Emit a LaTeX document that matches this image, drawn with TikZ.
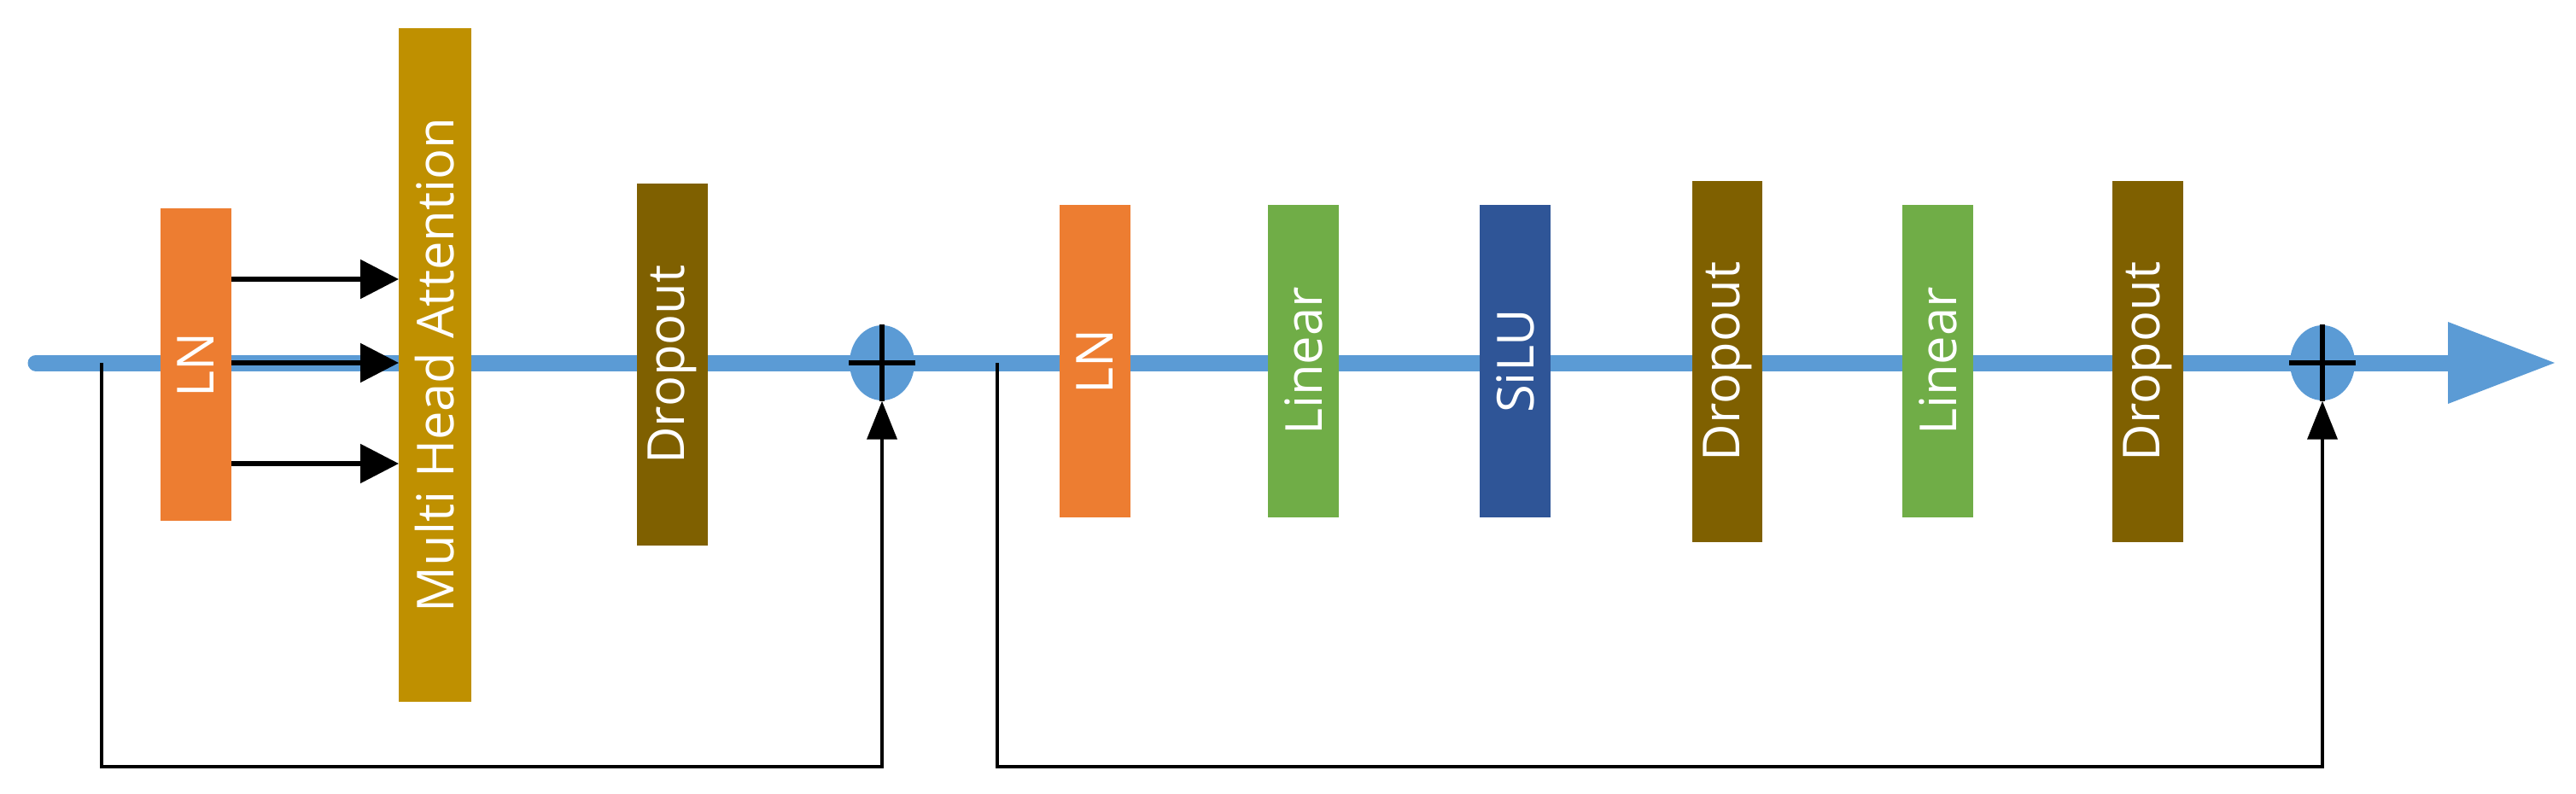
\documentclass[tikz,border=0pt]{standalone}
\usepackage{fontspec}
\setmainfont{Open Sans}
\usetikzlibrary{arrows.meta,shapes.geometric}
\definecolor{mainblue}{HTML}{5B9BD5}
\definecolor{lnor}{HTML}{ED7D31}
\definecolor{mhag}{HTML}{BF9000}
\definecolor{drop}{HTML}{7F6000}
\definecolor{lingr}{HTML}{70AD47}
\definecolor{silub}{HTML}{2F5597}
\tikzset{
  lbl/.style={pos=.5, rotate=90, text=white, font=\fontsize{17}{20}\selectfont},
  skip/.style={draw=black, line width=1.1pt, -{Triangle[length=4.5mm,width=3.5mm]}},
  qkv/.style={draw=black, line width=1.6pt, -{Triangle[length=4.5mm,width=4.5mm]}},
  plusnode/.style={ellipse, fill=mainblue, minimum width=0.76cm, minimum height=0.88cm, inner sep=0pt},
}
\begin{document}
\begin{tikzpicture}
\useasboundingbox (0,0) rectangle (30.17,9.29);
% main line
\coordinate (start) at (0.42,5.04);
\coordinate (headbase) at (28.67,5.04);
\coordinate (tip) at (29.92,5.04);
\draw[mainblue, line width=0.19cm, line cap=round] (start) -- (headbase);
\fill[mainblue] (28.67,5.52) -- (tip) -- (28.67,4.56) -- cycle;
% blocks
\fill[lnor] (1.88,6.85) rectangle (2.71,3.19) node[lbl] (ln1) {LN};
\fill[mhag] (4.67,8.96) rectangle (5.52,1.07) node[lbl] (mha) {Multi Head Attention};
\fill[drop] (7.46,7.14) rectangle (8.29,2.90) node[lbl] (d1) {Dropout};
\fill[lnor] (12.41,6.89) rectangle (13.24,3.23) node[lbl] (ln2) {LN};
\fill[lingr] (14.85,6.89) rectangle (15.68,3.23) node[lbl] (l1) {Linear};
\fill[silub] (17.33,6.89) rectangle (18.16,3.23) node[lbl] (s1) {SiLU};
\fill[drop] (19.82,7.17) rectangle (20.64,2.94) node[lbl] (d2) {Dropout};
\fill[lingr] (22.28,6.89) rectangle (23.11,3.23) node[lbl] (l2) {Linear};
\fill[drop] (24.74,7.17) rectangle (25.57,2.94) node[lbl] (d3) {Dropout};
% LN -> MHA arrows
\coordinate (a1s) at (2.71,6.02); \coordinate (a1e) at (4.67,6.02);
\coordinate (a2s) at (2.71,5.04); \coordinate (a2e) at (4.67,5.04);
\coordinate (a3s) at (2.71,3.86); \coordinate (a3e) at (4.67,3.86);
\draw[qkv] (a1s) -- (a1e);
\draw[qkv] (a2s) -- (a2e);
\draw[qkv] (a3s) -- (a3e);
% plus nodes
\node[plusnode] (p1) at (10.33,5.04) {};
\node[plusnode] (p2) at (27.20,5.04) {};
\foreach \n in {p1,p2}{
  \draw[black, line width=1.8pt] (\n.north) -- (\n.south);
  \draw[black, line width=1.8pt] (\n.west) -- (\n.east);
}
% skips
\coordinate (s1a) at (1.19,5.04);
\coordinate (s2a) at (11.68,5.04);
\draw[skip] (s1a) -- (1.19,0.31) -| (p1.south);
\draw[skip] (s2a) -- (11.68,0.31) -| (p2.south);
\end{tikzpicture}
\end{document}
